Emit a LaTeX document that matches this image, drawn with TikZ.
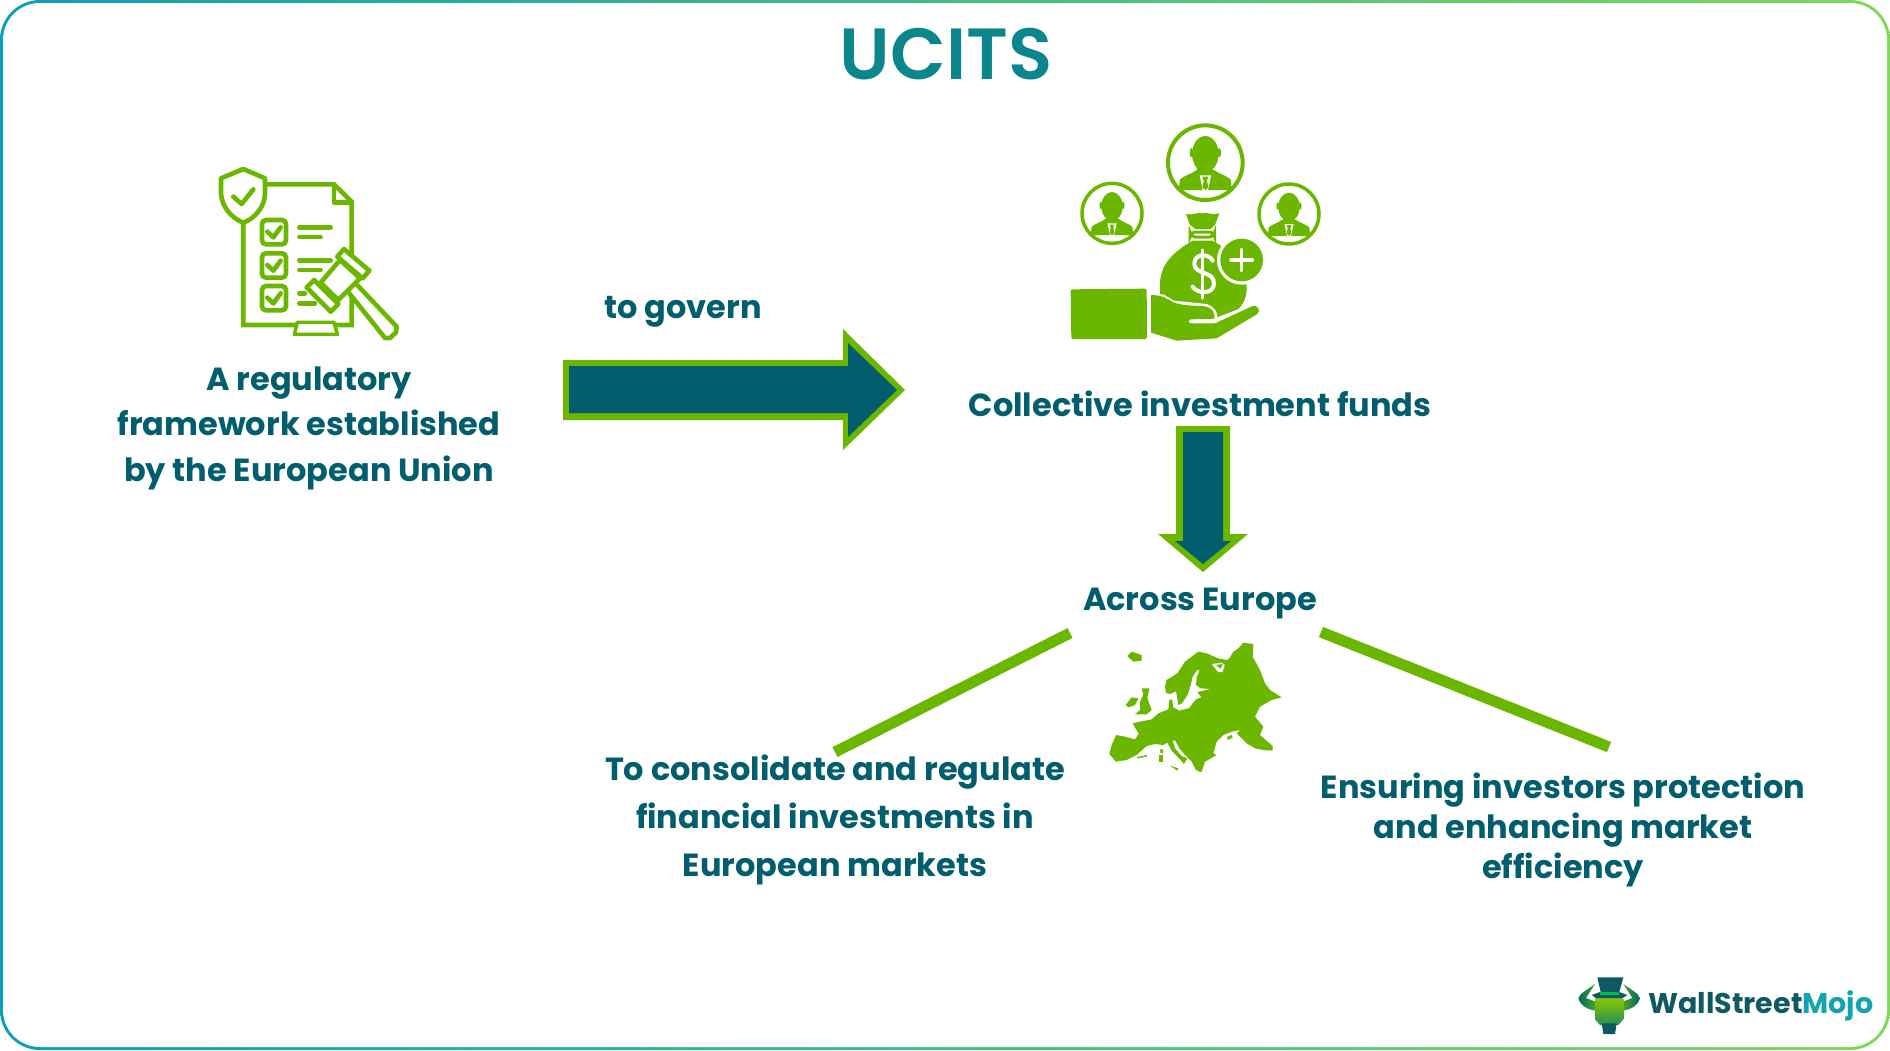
\documentclass[tikz,border=0pt]{standalone}
\usepackage{fontspec}
\setmainfont{Poppins}
\newfontfamily\titlefont{Poppins SemiBold}
\usetikzlibrary{calc}
\definecolor{ink}{HTML}{025E6D}
\definecolor{leaf}{HTML}{6BB700}
\definecolor{titleteal}{HTML}{0A868C}
\definecolor{edgeL}{HTML}{0AA0B4}
\definecolor{edgeR}{HTML}{7CDA58}
\definecolor{bulldark}{HTML}{0E5A60}
\definecolor{mojo}{HTML}{12A5B0}
\tikzset{
  lbl/.style={text=ink,align=center,inner sep=0pt},
  leafline/.style={draw=leaf,line width=4.6pt,line cap=round,line join=round},
  connector/.style={draw=leaf,line width=11pt},
}
\newcommand{\personicon}[3]{%
  \begin{scope}[shift={(#1,#2)},scale=#3]
    \fill[leaf] (0,-26) ellipse [x radius=40,y radius=54];
    \fill[leaf] (-42,-30) ellipse [x radius=5,y radius=14];
    \fill[leaf] (42,-30) ellipse [x radius=5,y radius=14];
    \fill[leaf] (-24,5) rectangle (24,35);
    \fill[leaf] (-80,82) -- (-76,50) .. controls (-62,38) and (-42,34) .. (-26,22) -- (26,22) .. controls (42,34) and (62,38) .. (76,50) -- (80,82) -- cycle;
    \fill[white] (-17,38) -- (17,38) -- (8,82) -- (-8,82) -- cycle;
    \fill[leaf] (-9,42) -- (9,42) -- (5,54) -- (9,74) -- (0,82) -- (-9,74) -- (-5,54) -- cycle;
  \end{scope}}
\begin{document}
\begin{tikzpicture}[x=1pt,y=-1pt]
\useasboundingbox (0,0) rectangle (1890,1050);
% frame
\shade[left color=edgeL,right color=edgeR,rounded corners=40pt] (0,0) rectangle (1890,1050);
\fill[white,rounded corners=37pt] (3,3) rectangle (1887,1047);

% texts
\node[text=titleteal,inner sep=0pt,font=\fontsize{72.5}{76}\selectfont\titlefont] (title) at (946,54) {UCITS};
\node[lbl,font=\fontsize{32}{45}\selectfont\bfseries] (govern) at (683,312) {to govern};
\node[lbl,font=\fontsize{32}{45.5}\selectfont\bfseries] (reg) at (309,428) {A regulatory\\ framework established\\ by the European Union};
\node[lbl,font=\fontsize{32}{40}\selectfont\bfseries] (funds) at (1200,404) {Collective investment funds};
\node[lbl,font=\fontsize{32}{40}\selectfont\bfseries] (across) at (1200,604) {Across Europe};
\node[lbl,font=\fontsize{32}{48}\selectfont\bfseries] (consol) at (835,820) {To consolidate and regulate\\ financial investments in\\ European markets};
\node[lbl,font=\fontsize{32}{40.3}\selectfont\bfseries] (ensure) at (1563,830) {Ensuring investors protection\\ and enhancing market\\ efficiency};

% block arrows
\fill[leaf] (563,360) -- (843,360) -- (843,329) -- (905,390) -- (843,450) -- (843,420) -- (563,420) -- cycle;
\fill[ink] (569,366) -- (848,366) -- (848,343) -- (897,390) -- (848,437) -- (848,413) -- (569,413) -- cycle;
\fill[leaf] (1176,426) -- (1230,426) -- (1230,534) -- (1248,534) -- (1203,572) -- (1158,534) -- (1176,534) -- cycle;
\fill[ink] (1183,432) -- (1223,432) -- (1223,541) -- (1231,541) -- (1203,564) -- (1175,541) -- (1183,541) -- cycle;

% connectors
\coordinate (la) at (1070,633);
\coordinate (lb) at (835,752);
\coordinate (ra) at (1321,632);
\coordinate (rb) at (1609,747);
\draw[connector] (la) -- (lb);
\draw[connector] (ra) -- (rb);

% document / gavel icon
\begin{scope}[shift={(190,150)},scale=1/3]
  \draw[leafline,line join=miter,line cap=butt] (230,103) -- (432,103) -- (485,155) -- (485,525) -- (160,525) -- (160,215);
  \draw[leafline] (432,103) -- (432,158) -- (485,158);
  \draw[leafline,fill=white] (160,57) -- (93,85) -- (93,130) .. controls (95,170) and (125,205) .. (160,218) .. controls (195,205) and (225,170) .. (225,130) -- (225,85) -- cycle;
  \draw[leafline] (130,140) -- (155,162) -- (190,118);
  \draw[fill=white,draw=leaf,line width=3.5pt,line join=round] (322,517) -- (432,517) -- (442,553) -- (313,553) -- cycle;
  \foreach \yy in {247,347,445}{
    \draw[draw=leaf,line width=4.6pt,rounded corners=4pt] (216,\yy-37) rectangle (288,\yy+36);
    \draw[leafline] (232,\yy-2) -- (250,\yy+15) -- (272,\yy-15);
  }
  \foreach \ya/\xb/\yb/\xc in {232/422/261/392,331/422/360/392,430/345/460/375}{
    \draw[leafline] (328,\ya) -- (\xb,\ya);
    \draw[leafline] (328,\yb) -- (\xc,\yb);
  }
  % gavel
  \draw[leafline,fill=white] (470,420) -- (495,398) -- (620,530) -- (618,547) -- (600,564) -- (585,564) -- cycle;
  \draw[leafline,fill=white] (450,330) -- (392,398) -- (445,450) -- (510,385) -- cycle;
  \draw[leafline,fill=white] (462,297) -- (538,362) -- (518,385) -- (442,320) -- cycle;
  \draw[leafline,fill=white] (372,390) -- (445,462) -- (422,485) -- (350,412) -- cycle;
\end{scope}

% investors icon
\begin{scope}[shift={(1050,110)},scale=1/3]
  \draw[leaf,line width=4pt] (466,158) circle [radius=112];
  \draw[leaf,line width=3.5pt] (186,310) circle [radius=90];
  \draw[leaf,line width=3.5pt] (717,312) circle [radius=90];
  \personicon{466}{158}{1}
  \personicon{186}{310}{.8}
  \personicon{717}{312}{.8}
  % bag
  \fill[leaf] (408,312) .. controls (425,318) and (440,305) .. (458,310) .. controls (475,305) and (490,318) .. (508,310) -- (495,345) -- (482,357) -- (436,357) -- (420,345) -- cycle;
  \draw[leaf,line width=3pt,rounded corners=5pt] (420,366) rectangle (494,381);
  \fill[leaf] (428,392) -- (488,392) .. controls (540,420) and (590,480) .. (590,535) .. controls (590,570) and (575,610) .. (490,640) -- (340,600) .. controls (330,570) and (325,520) .. (335,490) .. controls (345,450) and (380,420) .. (428,392) -- cycle;
  \draw[white,line width=3.5pt,line cap=round] (458,420) -- (458,564);
  \draw[white,line width=4pt,line cap=round] (488,452) .. controls (478,430) and (432,428) .. (433,462) .. controls (434,495) and (492,482) .. (492,520) .. controls (492,555) and (440,552) .. (428,530);
  % plus badge
  \fill[white] (575,450) circle [radius=74];
  \fill[leaf] (575,450) circle [radius=64];
  \draw[white,line width=3.5pt,line cap=round] (575,418) -- (575,482);
  \draw[white,line width=3.5pt,line cap=round] (543,450) -- (607,450);
  % hand
  \fill[leaf,rounded corners=2pt] (62,538) -- (290,536) -- (291,687) -- (64,687) -- cycle;
  \fill[white] (325,600) -- (303,553) -- (340,553) -- (372,572) -- (470,582) .. controls (495,590) and (503,610) .. (502,622) -- (610,580) -- (640,600) -- (640,640) -- (380,640) -- cycle;
  \fill[leaf] (303,555) .. controls (335,555) and (350,565) .. (372,578) .. controls (410,590) and (440,585) .. (470,590) .. controls (490,597) and (494,610) .. (494,626) -- (422,628) .. controls (412,632) and (416,640) .. (425,640) -- (495,640) -- (608,588) .. controls (620,584) and (635,600) .. (622,612) -- (500,685) -- (380,692) -- (303,668) -- cycle;
\end{scope}

% Europe map
\begin{scope}[shift={(1090,620)},scale=1/3]
  \fill[leaf] (58,402) -- (65,375) -- (78,345) -- (105,350) -- (135,358) -- (146,342) -- (128,310) -- (150,305) -- (185,298) -- (205,280) -- (235,268) -- (238,240) -- (246,238) -- (250,262) -- (268,272) -- (298,264) -- (308,250) -- (318,238) -- (334,232) -- (322,216) -- (362,207) -- (332,205) -- (318,195) -- (320,172) -- (329,150) -- (321,150) -- (308,170) -- (302,195) -- (294,222) -- (276,250) -- (264,255) -- (262,235) -- (258,214) -- (240,222) -- (228,218) -- (225,200) -- (230,180) -- (262,160) -- (285,125) -- (325,95) -- (350,100) -- (385,115) -- (410,120) -- (418,115) -- (430,95) -- (445,85) -- (460,68) -- (490,72) -- (488,110) -- (510,150) -- (525,190) -- (540,210) -- (575,232) -- (545,240) -- (510,260) -- (495,290) -- (520,320) -- (510,345) -- (548,378) -- (548,392) -- (520,390) -- (495,385) -- (470,370) -- (440,340) -- (450,330) -- (425,335) -- (400,345) -- (380,365) -- (370,400) -- (380,405) -- (345,425) -- (335,455) -- (318,450) -- (305,425) -- (285,405) -- (268,385) -- (256,362) -- (248,362) -- (255,385) -- (275,408) -- (292,415) -- (282,432) -- (270,418) -- (245,392) -- (232,368) -- (220,375) -- (195,372) -- (170,378) -- (140,405) -- (110,420) -- (78,425) -- cycle;
  \fill[white] (365,132) -- (395,128) -- (404,135) -- (398,155) -- (385,157) -- cycle;
  \fill[leaf] (378,135) -- (398,132) -- (392,146) -- cycle;
  \fill[white] (400,350) -- (425,345) -- (428,355) -- (410,365) -- cycle;
  \fill[leaf] (412,350) -- (425,345) -- (428,353) -- (412,360) -- cycle;
  \fill[leaf] (112,108) -- (125,95) -- (155,105) -- (155,122) -- (130,125) -- cycle;
  \fill[leaf] (155,205) -- (178,205) -- (172,235) -- (185,270) -- (170,283) -- (135,283) -- (150,270) -- (150,245) -- (160,225) -- cycle;
  \fill[leaf] (107,255) -- (125,232) -- (145,235) -- (135,255) -- (115,262) -- cycle;
  \fill[leaf] (240,437) -- (265,445) -- (262,452) -- cycle;
  \fill[leaf] (207,405) -- (218,405) -- (218,425) -- (207,425) -- cycle;
  \fill[leaf] (210,388) -- (220,388) -- (218,400) -- (212,400) -- cycle;
  \fill[leaf] (140,412) -- (170,405) -- (172,409) -- (145,415) -- cycle;
  \fill[leaf] (320,450) -- (335,453) -- (330,456) -- cycle;
\end{scope}

% logo
\begin{scope}[shift={(1560,960)},scale=1/3]
  \fill[bulldark] (112,52) -- (190,52) -- (178,96) -- (122,96) -- cycle;
  \fill[bulldark] (95,105) -- (120,96) -- (178,96) -- (202,105) -- (185,116) -- (110,116) -- cycle;
  \fill[green!50!teal] (120,96) rectangle (178,106);
  \shade[left color=teal!80!black,right color=leaf!70!teal] (105,72) .. controls (80,90) and (60,100) .. (55,115) .. controls (60,135) and (80,148) .. (107,152) -- (107,125) -- (78,114) -- cycle;
  \shade[left color=leaf!70!teal,right color=teal!80!black] (190,72) .. controls (215,90) and (235,100) .. (240,115) .. controls (235,135) and (215,148) .. (188,152) -- (188,125) -- (217,114) -- cycle;
  \shade[top color=leaf!80!yellow,bottom color=teal!70!leaf] (105,116) -- (190,116) -- (190,178) -- (175,195) -- (120,195) -- (105,178) -- cycle;
  \fill[bulldark] (125,190) -- (170,190) -- (165,222) -- (130,222) -- cycle;
  \node[inner sep=0pt,anchor=west,font=\fontsize{28.5}{30}\selectfont\bfseries] (logo) at (265,139) {\textcolor{bulldark}{WallStreet}\textcolor{mojo}{Mojo}};
\end{scope}
\end{tikzpicture}
\end{document}
